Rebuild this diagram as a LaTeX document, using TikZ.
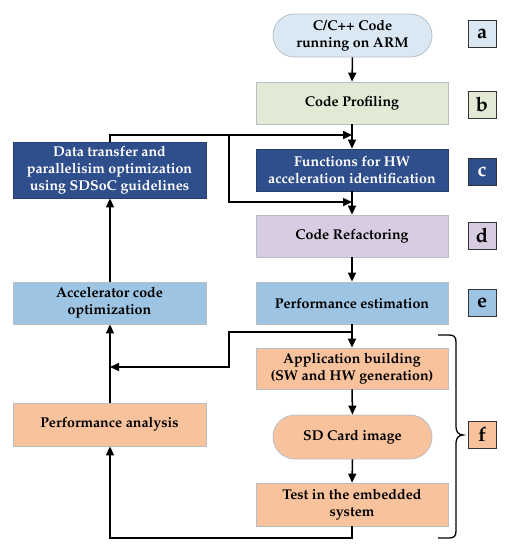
\documentclass[tikz,border=0pt]{standalone}
\usepackage[T1]{fontenc}
\usepackage{mathpazo}
\usetikzlibrary{arrows.meta,shapes.misc}
\definecolor{cA}{HTML}{DAE8F4}
\definecolor{cB}{HTML}{E2EAD5}
\definecolor{cC}{HTML}{2F4E8C}
\definecolor{cD}{HTML}{D7CCE1}
\definecolor{cE}{HTML}{9DC4E2}
\definecolor{cF}{HTML}{F8C29D}
\definecolor{edgeG}{HTML}{B8BEC6}
\tikzset{
  box/.style={draw=edgeG, line width=0.8pt, minimum width=192pt, minimum height=42pt,
    inner sep=0pt, align=center, font=\fontsize{14.2}{16.8}\selectfont\bfseries},
  pill/.style={box, rounded rectangle, minimum width=159pt, minimum height=43pt},
  tag/.style={draw=black!80, line width=0.9pt, minimum width=28pt, minimum height=27pt,
    inner sep=0pt, font=\fontsize{20}{21}\selectfont\bfseries},
  conn/.style={line width=1.5pt, -{Triangle[length=9pt,width=8pt]}},
  plain/.style={line width=1.5pt}
}
\begin{document}
\begin{tikzpicture}[x=1pt,y=-1pt]
\useasboundingbox (0,0) rectangle (507,550);
% nodes
\node[pill, fill=cA] (top) at (352.5,35.5) {C/C++ Code\\running on ARM};
\node[box, fill=cB] (prof) at (352,103) {Code Profiling};
\node[box, fill=cC, text=white, draw=cC!80!black] (func) at (352,170) {Functions for HW\\acceleration identification};
\node[box, fill=cC, text=white, draw=cC!80!black, minimum width=193pt, minimum height=56pt] (data) at (109.5,170) {Data transfer and\\parallelisim optimization\\using SDSoC guidelines};
\node[box, fill=cD] (refac) at (352,236) {Code Refactoring};
\node[box, fill=cE] (perf) at (352,303) {Performance estimation};
\node[box, fill=cE, minimum width=193pt] (accel) at (109.5,303) {Accelerator code\\optimization};
\node[box, fill=cF, minimum height=41pt] (app) at (352,368.5) {Application building\\(SW and HW generation)};
\node[box, fill=cF, minimum width=193pt, minimum height=43pt] (anal) at (109.5,424.5) {Performance analysis};
\node[pill, fill=cF, minimum height=44pt] (sd) at (352.5,437) {SD Card image};
\node[box, fill=cF, minimum height=43pt] (test) at (352,504.5) {Test in the embedded\\system};
% tags
\node[tag, fill=cA] (ta) at (482,33.5) {a};
\node[tag, fill=cB] (tb) at (482,104.5) {b};
\node[tag, fill=cC, text=white] (tc) at (482,171.5) {c};
\node[tag, fill=cD] (td) at (482,235.5) {d};
\node[tag, fill=cE] (te) at (482,303) {e};
\node[tag, fill=cF] (tf) at (482,434.5) {f};
% junction coordinates
\coordinate (j1) at (352,135);
\coordinate (j1b) at (229,135);
\coordinate (j2) at (352,202);
\coordinate (j3) at (352,332);
\coordinate (j4) at (110,367);
\coordinate (j5) at (352,538);
% connectors
\draw[conn] (top.south) -- (prof.north);
\draw[conn] (prof.south) -- (func.north);
\draw[conn] (data.north -| 110,0) |- (j1);
\draw[conn] (j1b) |- (j2);
\draw[conn] (func.south) -- (refac.north);
\draw[conn] (refac.south) -- (perf.north);
\draw[conn] (perf.south) -- (app.north);
\draw[conn] (j3) -| (229,367) -- (j4);
\draw[conn] (app.south) -- (sd.north);
\draw[conn] (sd.south) -- (test.north);
\draw[conn] (anal.north -| 110,0) -- (accel.south -| 110,0);
\draw[conn] (accel.north -| 110,0) -- (data.south -| 110,0);
\draw[conn] (test.south) -- (j5) -| (anal.south -| 110,0);
% brace
\draw[plain, line width=1.3pt] (438,335) -- (449,335)
  .. controls (454,335) and (456,337) .. (456,342) -- (456,427)
  .. controls (456,432) and (459,435) .. (463,435)
  .. controls (459,435) and (456,438) .. (456,443) -- (456,531)
  .. controls (456,536) and (454,538) .. (449,538) -- (438,538);
\end{tikzpicture}
\end{document}
